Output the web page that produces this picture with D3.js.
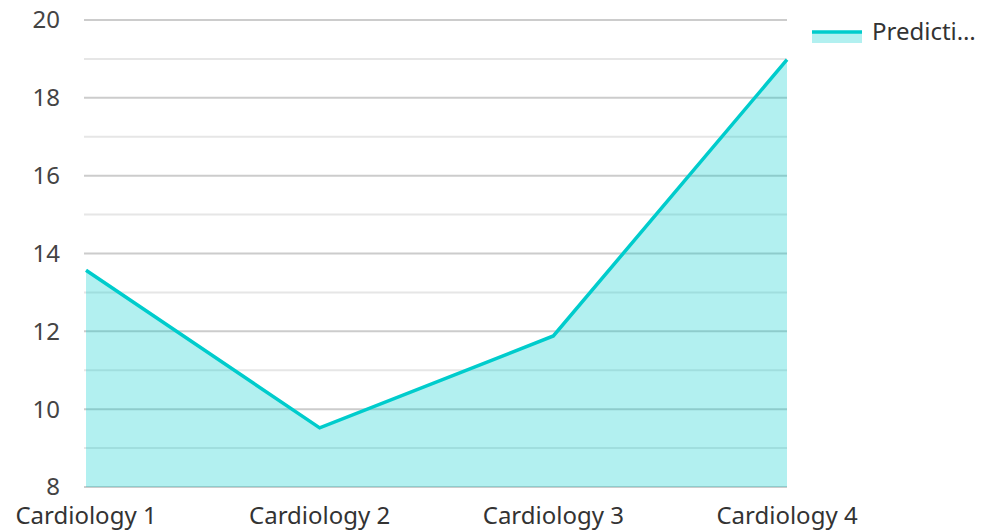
<!DOCTYPE html>
<html><head><meta charset="utf-8">
<script src="https://cdn.jsdelivr.net/npm/d3@7/dist/d3.min.js"></script>
<style>body{margin:0;background:#fff;}svg{display:block;font-family:"Noto Sans","Open Sans",sans-serif;}</style>
</head><body>
<script>
const categories = ["Cardiology 1","Cardiology 2","Cardiology 3","Cardiology 4"];
const values = [13.57, 9.52, 11.88, 18.98];
const seriesName = "Predicti…";
const yTicks = [8,10,12,14,16,18,20];
const yMinor = [9,11,13,15,17,19];

const W=981,H=531;
const svg=d3.select("body").append("svg").attr("width",W).attr("height",H);
const x=d3.scalePoint().domain(categories).range([86,787]);
const y=d3.scaleLinear().domain([8,20]).range([487,20]);

const g=svg.append("g");
g.selectAll(".minor").data(yMinor).join("line")
 .attr("x1",84).attr("x2",787).attr("y1",d=>y(d)).attr("y2",d=>y(d))
 .attr("stroke","#e6e6e6").attr("stroke-width",2);
g.selectAll(".major").data(yTicks).join("line")
 .attr("x1",84).attr("x2",787).attr("y1",d=>y(d)).attr("y2",d=>y(d))
 .attr("stroke","#cccccc").attr("stroke-width",2);

const data=categories.map((c,i)=>({c,v:values[i]}));
svg.append("path").datum(data)
 .attr("d",d3.area().x(d=>x(d.c)).y0(y(8)).y1(d=>y(d.v)))
 .attr("fill","#00cccc").attr("fill-opacity",0.3);
svg.append("path").datum(data)
 .attr("d",d3.line().x(d=>x(d.c)).y(d=>y(d.v)))
 .attr("fill","none").attr("stroke","#00cccc").attr("stroke-width",3.5);

svg.append("g").selectAll("text").data(yTicks).join("text")
 .attr("x",60).attr("y",d=>y(d)).attr("dy","0.35em").attr("text-anchor","end")
 .attr("font-size",24).attr("fill","#444").text(d=>d);
svg.append("g").selectAll("text").data(categories).join("text")
 .attr("x",d=>x(d)).attr("y",524).attr("text-anchor","middle")
 .attr("font-size",24).attr("fill","#333").text(d=>d);

const lg=svg.append("g");
lg.append("rect").attr("x",812).attr("y",32).attr("width",50).attr("height",11).attr("fill","#00cccc").attr("fill-opacity",0.3);
lg.append("line").attr("x1",812).attr("x2",862).attr("y1",32).attr("y2",32).attr("stroke","#00cccc").attr("stroke-width",3.5);
lg.append("text").attr("x",872).attr("y",40).attr("font-size",24).attr("fill","#333").text(seriesName);
</script>
</body></html>
